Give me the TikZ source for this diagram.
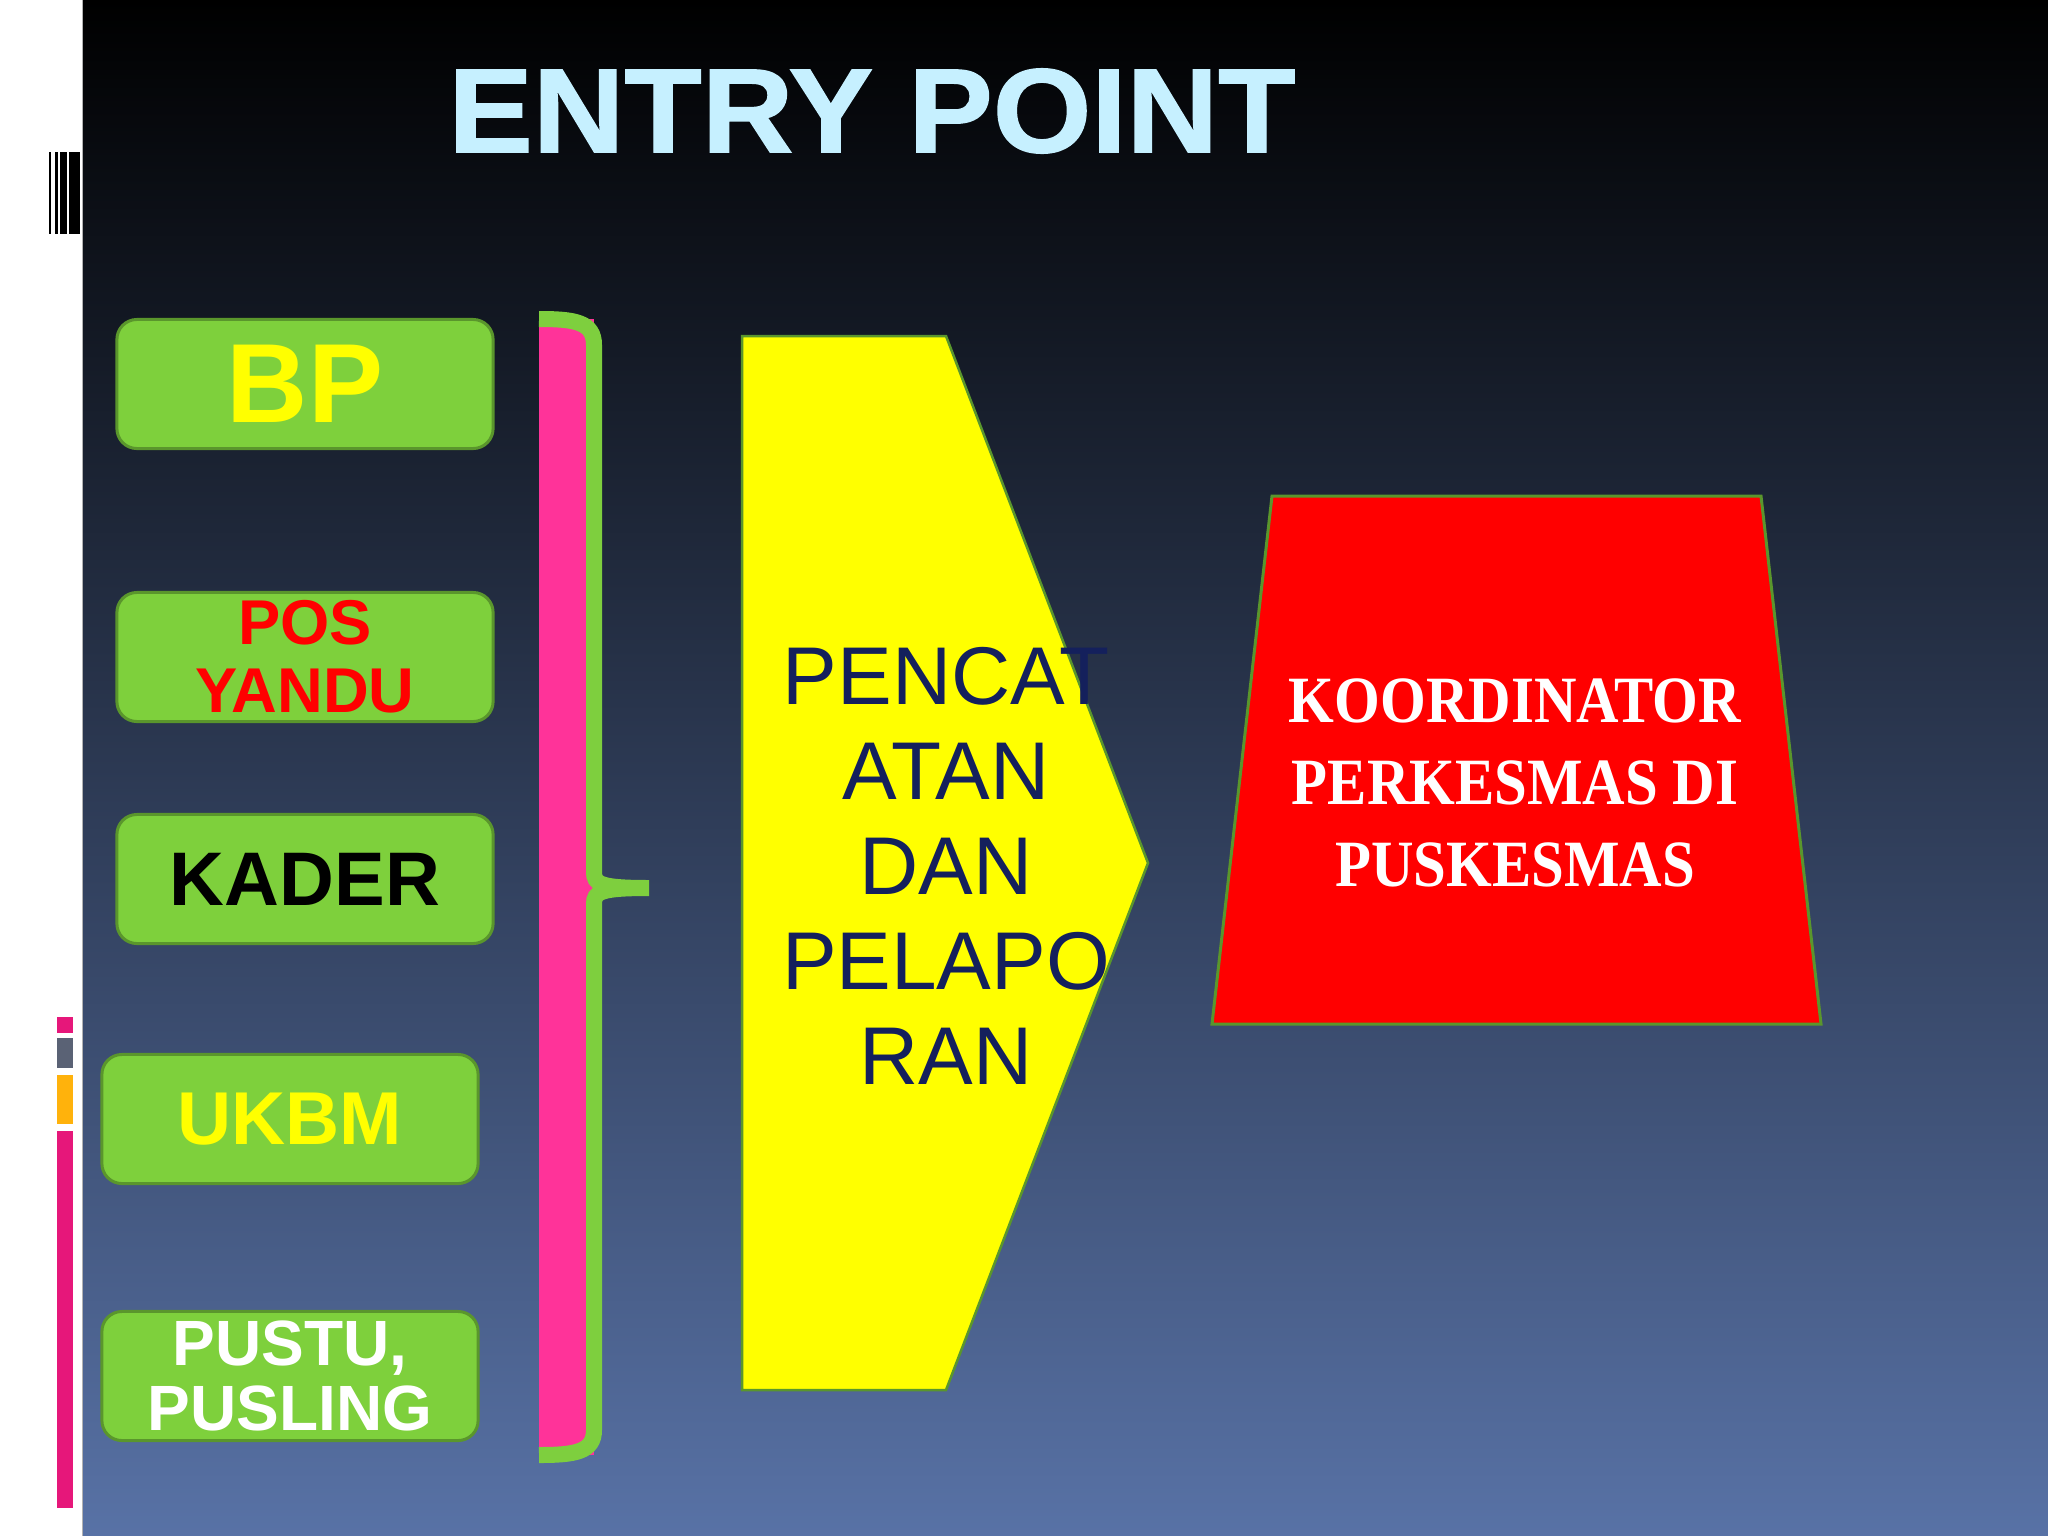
\documentclass[tikz,border=0pt]{standalone}
\usepackage{fontspec}
\setmainfont{Liberation Sans}
\newfontfamily\titlefont{Liberation Sans}[FakeStretch=1.06, FakeBold=1.2]
\newfontfamily\koorfont{Liberation Serif}[FakeStretch=0.89]
\definecolor{bgblue}{RGB}{88,114,166}
\definecolor{boxgreen}{RGB}{126,208,60}
\definecolor{boxline}{RGB}{90,150,44}
\definecolor{bracegreen}{RGB}{126,207,62}
\definecolor{bracepink}{RGB}{255,51,153}
\definecolor{titlecyan}{RGB}{198,240,255}
\definecolor{navytext}{RGB}{20,32,92}
\definecolor{barpink}{RGB}{230,23,122}
\definecolor{bargray}{RGB}{90,98,117}
\definecolor{barorange}{RGB}{255,178,12}
\definecolor{kuning}{RGB}{255,255,0}
\definecolor{merah}{RGB}{255,0,0}
\begin{document}
\begin{tikzpicture}[x=0.01cm, y=-0.01cm,
  box/.style={draw=boxline, line width=0.03cm, fill=boxgreen, rounded corners=0.2cm,
    minimum width=3.76cm, minimum height=1.29cm, inner sep=0pt, align=center}]
\useasboundingbox (0,0) rectangle (2048,1536);
\fill[white] (0,0) rectangle (82,1536); % left strip
\shade[top color=black, bottom color=bgblue] (82,0) rectangle (2048,1536); % slide
\draw[gray!60, line width=0.01cm] (82,0) -- (82,1536);
\fill (49.3,152) rectangle (51,234); % bars
\fill (55.3,152) rectangle (58.3,234);
\fill (60,152) rectangle (66.7,234);
\fill (69,152) rectangle (80,234);
\fill[barpink] (57,1017) rectangle (73,1033);
\fill[bargray] (57,1038) rectangle (73,1068);
\fill[barorange] (57,1075) rectangle (73,1124);
\fill[barpink] (57,1131) rectangle (73,1508);
\node[text=titlecyan, font=\titlefont\bfseries\fontsize{34pt}{40pt}\selectfont] (judul) at (872,111) {ENTRY POINT};
\node[box, text=kuning, font=\bfseries\fontsize{32pt}{36pt}\selectfont] (bp) at (305,384) {BP};
\node[box, text=merah, font=\bfseries\fontsize{18pt}{19.3pt}\selectfont] (posyandu) at (305,657) {POS\\YANDU};
\node[box, text=black, font=\bfseries\fontsize{21.6pt}{25pt}\selectfont] (kader) at (305,879) {KADER};
\node[box, text=kuning, font=\bfseries\fontsize{21.3pt}{25pt}\selectfont] (ukbm) at (290,1119) {UKBM};
\node[box, text=white, font=\bfseries\fontsize{18.2pt}{18.5pt}\selectfont] (pustu) at (290,1376) {PUSTU,\\PUSLING};
% brace
\fill[bracepink] (539,319) rectangle (594,1455);
\draw[bracegreen, line width=0.16cm] (539,319) .. controls (575,319) and (594,322) .. (594,345)
  -- (594,872) .. controls (594,884) and (600,888) .. (649,888)
  (649,888) .. controls (600,888) and (594,892) .. (594,904)
  -- (594,1430) .. controls (594,1452) and (575,1455) .. (539,1455);
% arrow
\draw[fill=kuning, draw=boxline, line width=0.025cm] (742,336) -- (946,336) -- (1148,863) -- (946,1390) -- (742,1390) -- cycle;
\node[text=navytext, align=center, font=\fontsize{23.3pt}{27pt}\selectfont] (lapor) at (946,866) {PENCAT\\ATAN\\DAN\\PELAPO\\RAN};
% koordinator
\draw[fill=merah, draw=boxline, line width=0.03cm] (1272,496) -- (1761,496) -- (1821,1024) -- (1212,1024) -- cycle;
\node[text=white, align=center, font=\koorfont\bfseries\fontsize{18.8pt}{23.3pt}\selectfont] (koor) at (1515,783) {KOORDINATOR\\PERKESMAS DI\\PUSKESMAS};
\end{tikzpicture}
\end{document}
